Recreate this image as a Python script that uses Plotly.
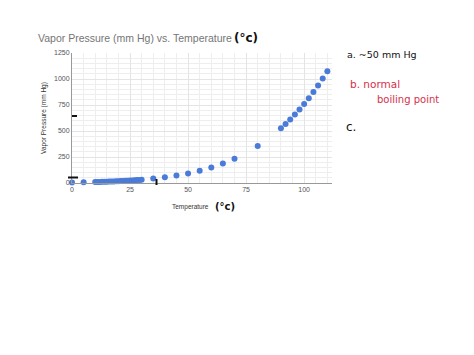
import plotly.graph_objects as go

temps = [0, 5, 10, 11, 12, 13, 14, 15, 16, 17, 18, 19, 20, 21, 22, 23, 24, 25, 26, 27, 28, 29, 30,
         35, 40, 45, 50, 55, 60, 65, 70, 80, 90, 92, 94, 96, 98, 100, 102, 104, 106, 108, 110]
pressures = [4.6, 6.5, 9.2, 9.8, 10.5, 11.2, 12.0, 12.8, 13.6, 14.5, 15.5, 16.5, 17.5, 18.7, 19.8, 21.1,
             22.4, 23.8, 25.2, 26.7, 28.4, 30.0, 31.8,
             42.2, 55.3, 71.9, 92.5, 118.0, 149.4, 187.5, 233.7, 355.1, 525.8, 567.0, 610.9, 657.6,
             707.3, 760.0, 815.9, 875.1, 937.9, 1004.4, 1074.6]
x_ticks = [0, 25, 50, 75, 100]
y_ticks = [0, 250, 500, 750, 1000, 1250]

# page body has an 8px margin; target pixel coordinates are in the reference frame
OFF = 8
W, H = 474, 355
L, R, T, B = 72 - OFF, 142 + OFF, 53 - OFF, 172 + OFF
pw, ph = W - L - R, H - T - B
def px(x):
    return (x - OFF - L) / pw
def py(y):
    return (H - B - (y - OFF)) / ph

fig = go.Figure()
fig.add_trace(go.Scatter(x=temps, y=pressures, mode="markers",
                         marker=dict(color="#4a7bd8", size=6), cliponaxis=False,
                         showlegend=False))

def ann(text, x, y, size, color, family="Arial, Liberation Sans", xanchor="left", angle=0):
    return dict(text=text, x=px(x), y=py(y), xref="paper", yref="paper", showarrow=False,
                xanchor=xanchor, yanchor="middle", textangle=angle,
                font=dict(size=size, color=color, family=family))

def seg(x0, y0, x1, y1):
    return dict(type="line", xref="paper", yref="paper", x0=px(x0), x1=px(x1), y0=py(y0), y1=py(y1),
                line=dict(color="#111111", width=2))

fig.update_layout(
    width=W, height=H,
    margin=dict(l=L, r=R, t=T, b=B),
    paper_bgcolor="white", plot_bgcolor="white",
    font=dict(family="Arial, Liberation Sans", color="#555555", size=7),
    xaxis=dict(range=[0, 112], tickvals=x_ticks, showgrid=True, gridcolor="#e4e4e4",
               minor=dict(dtick=5, showgrid=True, gridcolor="#eeeeee"),
               showline=True, linecolor="#999999", linewidth=1, zeroline=False,
               ticks="", tickfont=dict(size=7, color="#555555")),
    yaxis=dict(range=[0, 1250], tickvals=y_ticks, showgrid=True, gridcolor="#e4e4e4",
               minor=dict(dtick=50, showgrid=True, gridcolor="#eeeeee"),
               showline=True, linecolor="#999999", linewidth=1, zeroline=False,
               ticks="", tickfont=dict(size=7, color="#555555"),
               automargin=False,
               title=dict(text="Vapor Pressure (mm Hg)", standoff=6,
                          font=dict(size=6.5, color="#333333"))),
    annotations=[
        ann("Vapor Pressure (mm Hg) vs. Temperature", 36, 38, 10.5, "#757575"),
        ann("<b>(°c)</b>", 232, 38, 12, "#111111", "DejaVu Sans"),
        ann("Temperature", 211, 207, 6.5, "#333333", xanchor="right"),
        ann("<b>(°c)</b>", 213, 206, 10, "#111111", "DejaVu Sans"),
        ann("a. ~50 mm Hg", 345, 54, 9.5, "#111111", "DejaVu Sans"),
        ann("b. normal", 348, 84, 10.5, "#d6304a", "DejaVu Sans"),
        ann("boiling point", 375, 99, 10, "#d6304a", "DejaVu Sans"),
        ann("c.", 344, 127, 12, "#111111", "DejaVu Sans"),
    ],
    shapes=[
        seg(72, 116, 77, 116),
        seg(68, 177.5, 78, 177.5),
        seg(156.5, 179, 156.5, 185),
    ],
)

fig.write_html("out.html")
